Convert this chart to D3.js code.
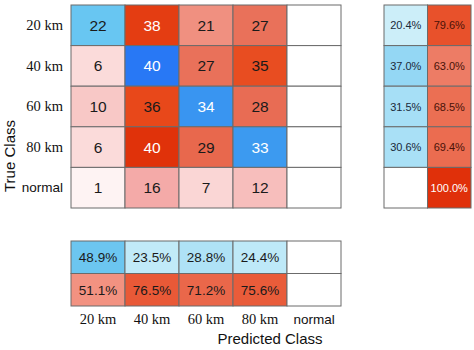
<!DOCTYPE html>
<html><head><meta charset="utf-8">
<script src="https://cdn.jsdelivr.net/npm/d3@7"></script>
<style>body{margin:0;background:#fff}svg{display:block}</style>
</head><body><svg id="c" width="474" height="350"></svg>
<script>
const classes = ["20 km","40 km","60 km","80 km","normal"];
const counts = [
  [22,38,21,27,null],
  [6,40,27,35,null],
  [10,36,34,28,null],
  [6,40,29,33,null],
  [1,16,7,12,null]
];
const rowCorrect = [20.4,37.0,31.5,30.6,null];
const rowError = [79.6,63.0,68.5,69.4,100.0];
const colCorrect = [48.9,23.5,28.8,24.4,null];
const colError = [51.1,76.5,71.2,75.6,null];

const svg = d3.select("#c");
const x = d3.scaleBand().domain(classes).range([71,341]);
const y = d3.scaleBand().domain(classes).range([5,208]);
const xr = d3.scaleBand().domain(["c","e"]).range([384,471]);
const yb = d3.scaleBand().domain(["c","e"]).range([241,306]);

const redCount = d3.scaleLinear().domain([0,10,16,21,28,36,40])
  .range(["#fff8f8","#f8c8c6","#f4aaa8","#f09080","#e86c54","#e8481a","#e0320a"]);
const blueCount = d3.scaleLinear().domain([22,33,40]).range(["#68c6f2","#3c9af0","#2878f5"]);
const bluePct = d3.scaleLinear().domain([20,50]).range(["#cdeff9","#68c4f0"]);
const redPct = d3.scaleLinear().domain([50,65,80,100]).range(["#f29484","#ec7860","#e8502a","#e0300a"]);
const stroke = "#6b6b6b";
const sans = "'Liberation Sans', Arial, sans-serif";
const serif = "'Liberation Serif', 'Times New Roman', serif";

// main grid
const cells = [];
counts.forEach((row,i)=>row.forEach((v,j)=>cells.push({r:classes[i],c:classes[j],v,diag:i===j})));
const g = svg.append("g");
g.selectAll("rect").data(cells).join("rect")
  .attr("x",d=>x(d.c)).attr("y",d=>y(d.r)).attr("width",x.bandwidth()).attr("height",y.bandwidth())
  .attr("fill",d=>d.v==null?"#fff":(d.diag?blueCount(d.v):redCount(d.v)))
  .attr("stroke",stroke).attr("stroke-width",1);
g.selectAll("text").data(cells.filter(d=>d.v!=null)).join("text")
  .attr("x",d=>x(d.c)+x.bandwidth()/2).attr("y",d=>y(d.r)+y.bandwidth()/2+5.5)
  .attr("text-anchor","middle").attr("font-family",sans).attr("font-size",15.5)
  .attr("fill",d=>(d.diag&&d.v>=33)||(!d.diag&&d.v>=38)?"#fff":"#1a1a1a")
  .text(d=>d.v);

// right panel
const rc = [];
classes.forEach((k,i)=>{rc.push({r:k,c:"c",v:rowCorrect[i]});rc.push({r:k,c:"e",v:rowError[i]});});
const gr = svg.append("g");
gr.selectAll("rect").data(rc).join("rect")
  .attr("x",d=>xr(d.c)).attr("y",d=>y(d.r)).attr("width",xr.bandwidth()).attr("height",y.bandwidth())
  .attr("fill",d=>d.v==null?"#fff":(d.c==="c"?bluePct(d.v):redPct(d.v)))
  .attr("stroke",stroke);
gr.selectAll("text").data(rc.filter(d=>d.v!=null)).join("text")
  .attr("x",d=>xr(d.c)+xr.bandwidth()/2).attr("y",d=>y(d.r)+y.bandwidth()/2+4)
  .attr("text-anchor","middle").attr("font-family",sans).attr("font-size",11)
  .attr("fill",d=>d.v>=90?"#fff":(d.c==="e"?"#4a1208":"#1a2a3a"))
  .text(d=>d.v.toFixed(1)+"%");

// bottom panel
const bc = [];
classes.forEach((k,j)=>{bc.push({c:k,r:"c",v:colCorrect[j]});bc.push({c:k,r:"e",v:colError[j]});});
const gb = svg.append("g");
gb.selectAll("rect").data(bc).join("rect")
  .attr("x",d=>x(d.c)).attr("y",d=>yb(d.r)).attr("width",x.bandwidth()).attr("height",yb.bandwidth())
  .attr("fill",d=>d.v==null?"#fff":(d.r==="c"?bluePct(d.v):redPct(d.v)))
  .attr("stroke",stroke);
gb.selectAll("text").data(bc.filter(d=>d.v!=null)).join("text")
  .attr("x",d=>x(d.c)+x.bandwidth()/2).attr("y",d=>yb(d.r)+yb.bandwidth()/2+5)
  .attr("text-anchor","middle").attr("font-family",sans).attr("font-size",13.5)
  .attr("fill","#1a1a1a")
  .text(d=>d.v.toFixed(1)+"%");

// axis labels (categories)
const yAxis = d3.axisLeft(y).tickSize(0).tickPadding(8);
const ya = svg.append("g").attr("transform","translate(71,0)").call(yAxis);
ya.select(".domain").remove();
ya.selectAll("text").attr("fill","#111")
  .attr("font-family",d=>d==="normal"?sans:serif)
  .attr("font-size",d=>d==="normal"?13.5:14.5);

const xAxis = d3.axisBottom(x).tickSize(0).tickPadding(0);
const xa = svg.append("g").attr("transform","translate(0,314)").call(xAxis);
xa.select(".domain").remove();
xa.selectAll("text").attr("fill","#111")
  .attr("font-family",d=>d==="normal"?sans:serif)
  .attr("font-size",d=>d==="normal"?13.5:14.5);

svg.append("text").attr("x",270).attr("y",344).attr("text-anchor","middle")
  .attr("font-family",sans).attr("font-size",15).attr("fill","#111").text("Predicted Class");
svg.append("text").attr("transform","translate(15,156) rotate(-90)").attr("text-anchor","middle")
  .attr("font-family",sans).attr("font-size",15).attr("fill","#111").text("True Class");
</script></body></html>
